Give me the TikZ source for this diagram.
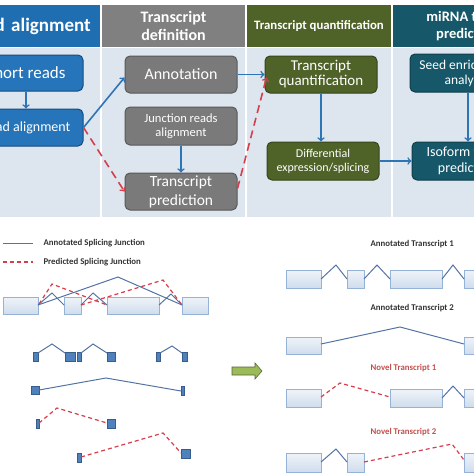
\documentclass[tikz,border=0pt]{standalone}
\usepackage{fontspec}
\setmainfont{Carlito}
\usepackage{tikz}
\usetikzlibrary{arrows,positioning,calc}
\definecolor{hdrblue}{RGB}{31,110,178}
\definecolor{boxblue}{RGB}{38,117,186}
\definecolor{hdrgrey}{RGB}{128,128,128}
\definecolor{boxgrey}{RGB}{122,122,122}
\definecolor{hdrgreen}{RGB}{79,98,40}
\definecolor{hdrteal}{RGB}{22,88,106}
\definecolor{panel}{RGB}{221,229,239}
\definecolor{flowblue}{RGB}{46,117,182}
\definecolor{flowred}{RGB}{214,62,76}
\definecolor{exonline}{RGB}{149,179,215}
\definecolor{junc}{RGB}{84,115,165}
\definecolor{smallfill}{RGB}{79,129,189}
\definecolor{smallline}{RGB}{56,93,138}
\definecolor{arrowgreen}{RGB}{155,187,89}
\definecolor{noveltext}{RGB}{192,80,77}
\tikzset{hdr/.style={rectangle, text=white, font=\bfseries, align=center, inner sep=0pt, minimum height=42pt},
stage/.style={rectangle, rounded corners=5pt, text=white, align=center, line width=1pt, inner sep=2pt},
flow/.style={->, flowblue, line width=1.6pt},
novel/.style={->, flowred, line width=1.6pt, dash pattern=on 8pt off 5pt},
exon/.style={draw=exonline, line width=0.6pt, top color=exonline!15, bottom color=exonline!45},
tinyexon/.style={draw=smallline, fill=smallfill, line width=0.6pt},
annojunc/.style={junc, line width=1pt},
predjunc/.style={flowred, line width=1.2pt, dash pattern=on 4pt off 3pt},
legendtext/.style={font=\bfseries\fontsize{8.8}{10}\selectfont, anchor=west, text=black!80}}

\begin{document}
\begin{tikzpicture}[x=1pt,y=-1pt]
	\useasboundingbox (0,0) rectangle (474,474);
	% top panel
	\fill [panel] (0,48) rectangle (474,217);
	\foreach \x in {101,246,392} \draw [white, line width=1.5pt] (\x,48) -- (\x,217);
	\node [hdr, fill=hdrblue, anchor=east, text width=200pt, align=right, inner xsep=9pt, font=\bfseries\fontsize{19}{21}\selectfont] (hdrread) at (100,26) {Read alignment};
	\node [hdr, fill=hdrgrey, minimum width=143pt, font=\bfseries\fontsize{16}{18}\selectfont] (hdrdef) at (173.5,26) {Transcript\\definition};
	\node [hdr, fill=hdrgreen, minimum width=144pt, font=\bfseries\fontsize{12.8}{14}\selectfont] (hdrquant) at (319,26) {Transcript quantification};
	\node [hdr, fill=hdrteal, minimum width=148pt, font=\bfseries\fontsize{14.5}{17}\selectfont] (hdrmirna) at (467,26) {miRNA target\\prediction};
	% stages
	\node [stage, fill=boxblue, draw=hdrblue!70!black, minimum width=114pt, minimum height=36pt, font=\fontsize{17}{19}\selectfont] (shortreads) at (26,73) {Short reads};
	\node [stage, fill=boxblue, draw=hdrblue!70!black, minimum width=114pt, minimum height=37pt, font=\fontsize{14}{16}\selectfont] (readalign) at (26,127.5) {Read alignment};
	\node [stage, fill=boxgrey, draw=black!65, minimum width=112pt, minimum height=37pt, font=\fontsize{16}{18}\selectfont] (annot) at (181,74.5) {Annotation};
	\node [stage, fill=boxgrey, draw=black!65, minimum width=112pt, minimum height=38pt, font=\fontsize{12.5}{14}\selectfont] (junction) at (181,126) {Junction reads\\alignment};
	\node [stage, fill=boxgrey, draw=black!65, minimum width=112pt, minimum height=37pt, font=\fontsize{15.5}{19}\selectfont] (tpred) at (181,191.5) {Transcript\\prediction};
	\node [stage, fill=hdrgreen, draw=hdrgreen!70!black, minimum width=112pt, minimum height=37pt, font=\fontsize{15}{15}\selectfont] (tquant) at (321,74.5) {Transcript\\quantification};
	\node [stage, fill=hdrgreen, draw=hdrgreen!70!black, minimum width=112pt, minimum height=38pt, font=\fontsize{12}{14}\selectfont] (diffexp) at (323,161) {Differential\\expression/splicing};
	\node [stage, fill=hdrteal, draw=hdrteal!70!black, minimum width=112pt, minimum height=38pt, font=\fontsize{13.5}{15}\selectfont] (seed) at (466,73) {Seed enrichment\\analysis};
	\node [stage, fill=hdrteal, draw=hdrteal!70!black, minimum width=110pt, minimum height=38pt, font=\fontsize{14}{16}\selectfont] (isoform) at (467,161) {Isoform target\\prediction};
	% connectors
	\draw [flow] (shortreads) -- (readalign);
	\draw [flow] (readalign.east) -- ([yshift=-3pt]annot.west);
	\draw [novel] (readalign.east) -- (tpred.west);
	\draw [flow] (junction) -- (tpred);
	\draw [flow] (annot) -- (tquant);
	\draw [novel] ([yshift=3pt]tpred.east) -- ([xshift=2pt,yshift=-3pt]tquant.west);
	\draw [flow] (tquant.south) -- (tquant.south |- diffexp.north);
	\draw [flow] (diffexp) -- (isoform);
	\draw [flow] ([xshift=2pt]seed.south) -- ([xshift=2pt]seed.south |- isoform.north);
	% legend
	\draw [annojunc] (3,243) -- (33,243);
	\node [legendtext] (legannot) at (40,243) {Annotated Splicing Junction};
	\draw [predjunc] (3,262) -- (33,262);
	\node [legendtext] (legpred) at (40,262) {Predicted Splicing Junction};
	% gene model
	\foreach \a/\b in {3/38,64/81,107/159,182/208} \draw [exon] (\a,297) rectangle (\b,314);
	\draw [annojunc] (38,305) -- (52,293) -- (64,305);
	\draw [annojunc] (81,305) -- (93,293) -- (107,305);
	\draw [annojunc] (159,305) -- (171,294) -- (182,305);
	\draw [annojunc] (38,305) -- (118,277) -- (182,305);
	\draw [predjunc] (39,304) -- (52,284) -- (107,305);
	\draw [predjunc] (81,305) -- (163,280) -- (182,305);
	% junction reads
	\draw [tinyexon] (33,352) rectangle (38,361);
	\draw [annojunc] (38,353) -- (52,344) -- (65,353);
	\draw [tinyexon] (65,352) rectangle (75,361);
	\draw [tinyexon] (77,352) rectangle (81,361);
	\draw [annojunc] (81,353) -- (93,344) -- (107,353);
	\draw [tinyexon] (107,352) rectangle (115,361);
	\draw [tinyexon] (156,352) rectangle (160,361);
	\draw [annojunc] (160,353) -- (172,346) -- (182,353);
	\draw [tinyexon] (182,352) rectangle (187,361);
	\draw [tinyexon] (31,386) rectangle (39,394);
	\draw [annojunc] (39,390) -- (106,378) -- (181,391);
	\draw [tinyexon] (181,386) rectangle (184,395);
	\draw [tinyexon] (36,419) rectangle (39,428);
	\draw [predjunc] (39,423) -- (57,408) -- (107,423);
	\draw [tinyexon] (107,419) rectangle (115,428);
	\draw [tinyexon] (77,453) rectangle (81,462);
	\draw [predjunc] (81,457) -- (163,433) -- (181,453);
	\draw [tinyexon] (181,449) rectangle (190,458);
	% big arrow
	\draw [fill=arrowgreen, draw=arrowgreen!55!black, line width=0.6pt] (232,367) -- (255,367) -- (255,363) -- (262,371) -- (255,379) -- (255,375) -- (232,375) -- cycle;
	% transcripts
	\node [legendtext] (annot1) at (367,244) {Annotated Transcript 1};
	\foreach \a/\b in {286/321,347/364,390/442,464/500} \draw [exon] (\a,270) rectangle (\b,288);
	\draw [annojunc] (321,279) -- (336,265) -- (347,279);
	\draw [annojunc] (364,279) -- (377,265) -- (390,279);
	\draw [annojunc] (442,279) -- (453,265) -- (464,279);
	\node [legendtext] (annot2) at (367,308) {Annotated Transcript 2};
	\foreach \a/\b in {286/321,464/500} \draw [exon] (\a,337) rectangle (\b,354);
	\draw [annojunc] (321,344) -- (400,327) -- (464,344);
	\node [legendtext, text=noveltext] (novel1) at (367,368) {Novel Transcript 1};
	\foreach \a/\b in {286/321,390/442,464/500} \draw [exon] (\a,389) rectangle (\b,407);
	\draw [predjunc] (321,397) -- (340,383) -- (390,397);
	\draw [annojunc] (442,398) -- (453,386) -- (464,398);
	\node [legendtext, text=noveltext] (novel2) at (367,432) {Novel Transcript 2};
	\foreach \a/\b in {286/321,347/364,464/500} \draw [exon] (\a,453) rectangle (\b,472);
	\draw [annojunc] (321,462) -- (336,449) -- (347,462);
	\draw [predjunc] (364,462) -- (452,444) -- (464,460);
\end{tikzpicture}
\end{document}
